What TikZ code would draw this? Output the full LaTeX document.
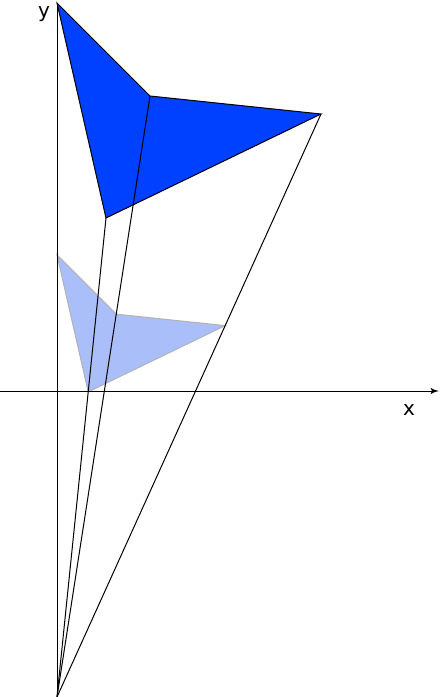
\documentclass[tikz,border=0pt]{standalone}
\usepackage{fontspec}
\setmainfont{DejaVu Sans}
\usetikzlibrary{arrows, calc}
\definecolor{facedark}{RGB}{0,64,255}
\definecolor{facelight}{RGB}{170,191,250}
\tikzset{
	>=latex', % small filled arrow head for the axis
	axis/.style={->, line width=0.5pt}, % the x axis
	ray/.style={line width=0.5pt}, % lines from the eye point
	solid face/.style={fill=facedark, draw=black, line width=0.5pt}, % the object
	shadow face/.style={fill=facelight, draw=gray!60, line width=0.5pt}, % its image
}
\begin{document}
\begin{tikzpicture}[x=0.5pt, y=0.5pt]
	\useasboundingbox (-57,-306) rectangle (386,391);
	% Define points
	\coordinate (o) at (0,-306);
	\coordinate (a) at (0,388);
	\coordinate (b) at (93,295);
	\coordinate (c) at (264,277);
	\coordinate (d) at (49,173);
	\coordinate (xl) at (-57,0);
	\coordinate (xr) at (382,0);
	% Image of the object
	\coordinate (a1) at ($(o)!0.637!(a)$);
	\coordinate (b1) at ($(o)!0.637!(b)$);
	\coordinate (c1) at ($(o)!0.637!(c)$);
	\coordinate (d1) at ($(o)!0.637!(d)$);
	
	% Faces
	\filldraw[shadow face] (a1) -- (b1) -- (c1) -- (d1) -- cycle;
	\filldraw[solid face] (a) -- (b) -- (c) -- (d) -- cycle;
	
	% Axes
	\draw[axis] (xl) -- (xr);
	\node (xlab) at (352,-19) {x};
	\node (ylab) at (-13,377) {y};
	
	% Rays
	\path[ray]
	(o) edge (a)
	(o) edge (b)
	(o) edge (c)
	(o) edge (d);
	
\end{tikzpicture}
\end{document}
